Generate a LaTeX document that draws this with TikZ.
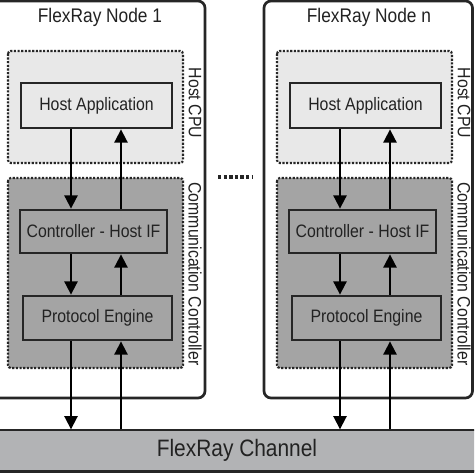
\documentclass[tikz,border=0pt]{standalone}
\usepackage{fontspec}
\setmainfont{Liberation Sans}[FakeStretch=0.88]
\usetikzlibrary{arrows.meta}
\definecolor{txt}{HTML}{222222}
\definecolor{cpufill}{HTML}{E8E8E8}
\definecolor{ccfill}{HTML}{A4A4A4}
\definecolor{chfill}{HTML}{B2B3B5}
\newcommand{\blkfont}{\fontsize{12.8}{14}\selectfont}
\newcommand{\ttlfont}{\fontsize{14}{16}\selectfont}

\begin{document}
\begin{tikzpicture}
[x=0.25mm, y=-0.25mm, text=txt,
 nodebox/.style={draw=black!85, line width=1.9pt, rounded corners=5pt, fill=white},
 region/.style={draw=black!85, line width=1.5pt, dash pattern=on 1.5pt off 1.1pt, rounded corners=2pt},
 blk/.style={draw=black!85, line width=2pt, inner sep=0pt, font=\blkfont},
 side/.style={rotate=-90, font=\blkfont},
 ->/.style={line width=1.3pt, arrows={-Triangle[length=3.3mm, width=3.3mm]}}]
\clip (0,0) rectangle (474,474);
% node 1
\draw[nodebox] (-20,1) rectangle (205,398);
\node[font=\ttlfont] (t1) at (100,17) {FlexRay Node 1};
\draw[region, fill=cpufill] (8,51) rectangle (183,163);
\draw[region, fill=ccfill] (8,178) rectangle (183,368);
\node[side] (cpu1) at (195,103) {Host CPU};
\node[side] (cc1) at (195,274) {Communication Controller};
\node[blk, fill=cpufill, minimum width=37.75mm, minimum height=11.25mm] (ha1) at (96.5,105.5) {Host Application};
\node[blk, fill=ccfill, minimum width=36.75mm, minimum height=10.75mm] (ci1) at (93.5,231.5) {Controller - Host IF};
\node[blk, fill=ccfill, minimum width=37.25mm, minimum height=11mm] (pe1) at (97.5,318) {Protocol Engine};
\coordinate (dn1) at (71,0); \coordinate (up1) at (121,0);
% node n
\draw[nodebox] (264,1) rectangle (472.5,398);
\node[font=\ttlfont] (tn) at (369,17) {FlexRay Node n};
\draw[region, fill=cpufill] (277,51) rectangle (452,163);
\draw[region, fill=ccfill] (277,178) rectangle (452,368);
\node[side] (cpun) at (464,103) {Host CPU};
\node[side] (ccn) at (464,274) {Communication Controller};
\node[blk, fill=cpufill, minimum width=37.75mm, minimum height=11.25mm] (han) at (365.5,105.5) {Host Application};
\node[blk, fill=ccfill, minimum width=36.75mm, minimum height=10.75mm] (cin) at (362.5,231.5) {Controller - Host IF};
\node[blk, fill=ccfill, minimum width=37.25mm, minimum height=11mm] (pen) at (366.5,318) {Protocol Engine};
\coordinate (dnn) at (340,0); \coordinate (upn) at (390,0);
% dots between the nodes
\coordinate (e1) at (218,177); \coordinate (e2) at (252,177);
\draw[line width=2.6pt, dash pattern=on 2.4pt off 1.6pt, black!85] (e1) -- (e2);
% channel
\node[draw=black!85, line width=1pt, fill=chfill, minimum width=125mm, minimum height=10.25mm,
      font=\fontsize{16.9}{19}\selectfont] (ch) at (237,450.5) {FlexRay Channel};
\draw[line width=2.4pt, black!85] (ch.south west) -- (ch.south east);
\draw[->] (ha1.south -| dn1) -- (ci1.north -| dn1);
\draw[->] (ci1.north -| up1) -- (ha1.south -| up1);
\draw[->] (ci1.south -| dn1) -- (pe1.north -| dn1);
\draw[->] (pe1.north -| up1) -- (ci1.south -| up1);
\draw[->] (pe1.south -| dn1) -- (ch.north -| dn1);
\draw[->] (ch.north -| up1) -- (pe1.south -| up1);
\draw[->] (han.south -| dnn) -- (cin.north -| dnn);
\draw[->] (cin.north -| upn) -- (han.south -| upn);
\draw[->] (cin.south -| dnn) -- (pen.north -| dnn);
\draw[->] (pen.north -| upn) -- (cin.south -| upn);
\draw[->] (pen.south -| dnn) -- (ch.north -| dnn);
\draw[->] (ch.north -| upn) -- (pen.south -| upn);
\end{tikzpicture}
\end{document}
